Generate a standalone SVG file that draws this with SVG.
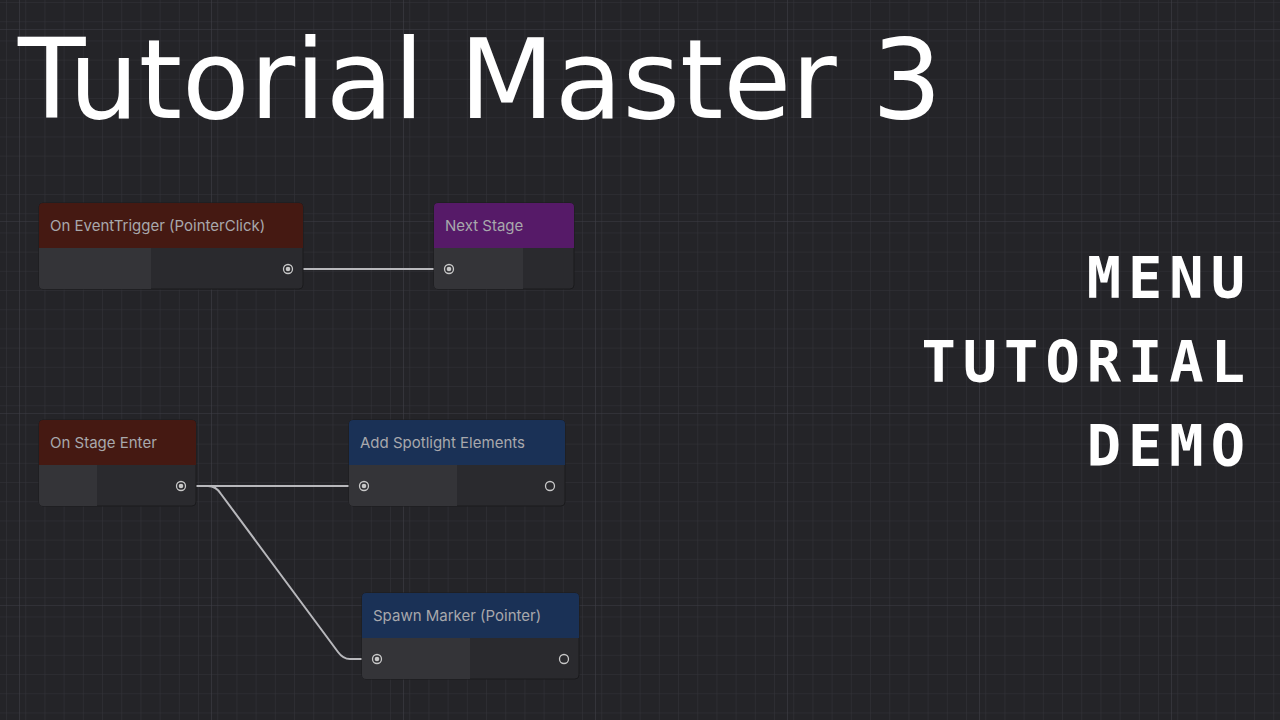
<svg xmlns="http://www.w3.org/2000/svg" width="1280" height="720" viewBox="0 0 1280 720">
<defs>
<pattern id="minor" x="7" y="3" width="19.2" height="19.2" patternUnits="userSpaceOnUse">
<path d="M19.2 0V19.2M0 19.2H19.2" fill="none" stroke="#34343a" stroke-width="1"/>
</pattern>
<pattern id="major" x="20" y="30" width="192" height="192" patternUnits="userSpaceOnUse">
<path d="M192 0V192M0 192H192" fill="none" stroke="#3e3e45" stroke-width="1.2"/>
</pattern>
</defs>
<style>
.body{fill:#2a2a2e;stroke:#1a1a1c;stroke-width:1}
.panel{fill:#343438}
.lbl{font-family:Inter,"Noto Sans",sans-serif;font-size:15px;fill:#a8a8ac}
.big{font-family:"DejaVu Sans Mono",monospace;font-weight:bold;font-size:57px;fill:#ffffff;text-anchor:end;letter-spacing:7px}
.port{fill:none;stroke:#c8c8c8;stroke-width:1.3}
.dot{fill:#c8c8c8}
.wire{fill:none;stroke:#b8b8bc;stroke-width:2}
</style>
<rect width="1280" height="720" fill="#242428"/>
<rect width="1280" height="720" fill="url(#minor)"/>
<rect width="1280" height="720" fill="url(#major)"/>
<text x="18" y="118" font-family="DejaVu Sans,sans-serif" font-size="110.5" fill="#ffffff">Tutorial Master 3</text>
<text class="big" x="1252" y="298">MENU</text>
<text class="big" x="1252" y="382">TUTORIAL</text>
<text class="big" x="1252" y="466">DEMO</text>
<g id="connectors">
<path class="wire" d="M294 269H443"/>
<path class="wire" d="M187 486H358"/>
<path class="wire" d="M187 486H208Q216 486 221 494L338 652Q343 659 350 659H371"/>
</g>
<g id="n1">
<rect class="body" x="39" y="203" width="264" height="86" rx="4"/>
<path d="M43 203H299Q303 203 303 207V248H39V207Q39 203 43 203Z" fill="#451912"/>
<path class="panel" d="M39 248H151V289H43Q39 289 39 285Z"/>
<text class="lbl" x="50" y="231">On EventTrigger (PointerClick)</text>
<circle class="port" cx="288" cy="269" r="4.5"/><circle class="dot" cx="288" cy="269" r="2.3"/>
</g>
<g id="n2">
<rect class="body" x="434" y="203" width="140" height="86" rx="4"/>
<path d="M438 203H570Q574 203 574 207V248H434V207Q434 203 438 203Z" fill="#561a68"/>
<path class="panel" d="M434 248H523V289H438Q434 289 434 285Z"/>
<text class="lbl" x="445" y="231">Next Stage</text>
<circle class="port" cx="449" cy="269" r="4.5"/><circle class="dot" cx="449" cy="269" r="2.3"/>
</g>
<g id="n3">
<rect class="body" x="39" y="420" width="157" height="86" rx="4"/>
<path d="M43 420H192Q196 420 196 424V465H39V424Q39 420 43 420Z" fill="#451912"/>
<path class="panel" d="M39 465H97V506H43Q39 506 39 502Z"/>
<text class="lbl" x="50" y="448">On Stage Enter</text>
<circle class="port" cx="181" cy="486" r="4.5"/><circle class="dot" cx="181" cy="486" r="2.3"/>
</g>
<g id="n4">
<rect class="body" x="349" y="420" width="216" height="86" rx="4"/>
<path d="M353 420H561Q565 420 565 424V465H349V424Q349 420 353 420Z" fill="#1a3156"/>
<path class="panel" d="M349 465H457V506H353Q349 506 349 502Z"/>
<text class="lbl" x="360" y="448">Add Spotlight Elements</text>
<circle class="port" cx="364" cy="486" r="4.5"/><circle class="dot" cx="364" cy="486" r="2.3"/>
<circle class="port" cx="550" cy="486" r="4.5"/>
</g>
<g id="n5">
<rect class="body" x="362" y="593" width="217" height="86" rx="4"/>
<path d="M366 593H575Q579 593 579 597V638H362V597Q362 593 366 593Z" fill="#1a3156"/>
<path class="panel" d="M362 638H470V679H366Q362 679 362 675Z"/>
<text class="lbl" x="373" y="621">Spawn Marker (Pointer)</text>
<circle class="port" cx="377" cy="659" r="4.5"/><circle class="dot" cx="377" cy="659" r="2.3"/>
<circle class="port" cx="564" cy="659" r="4.5"/>
</g>
</svg>
